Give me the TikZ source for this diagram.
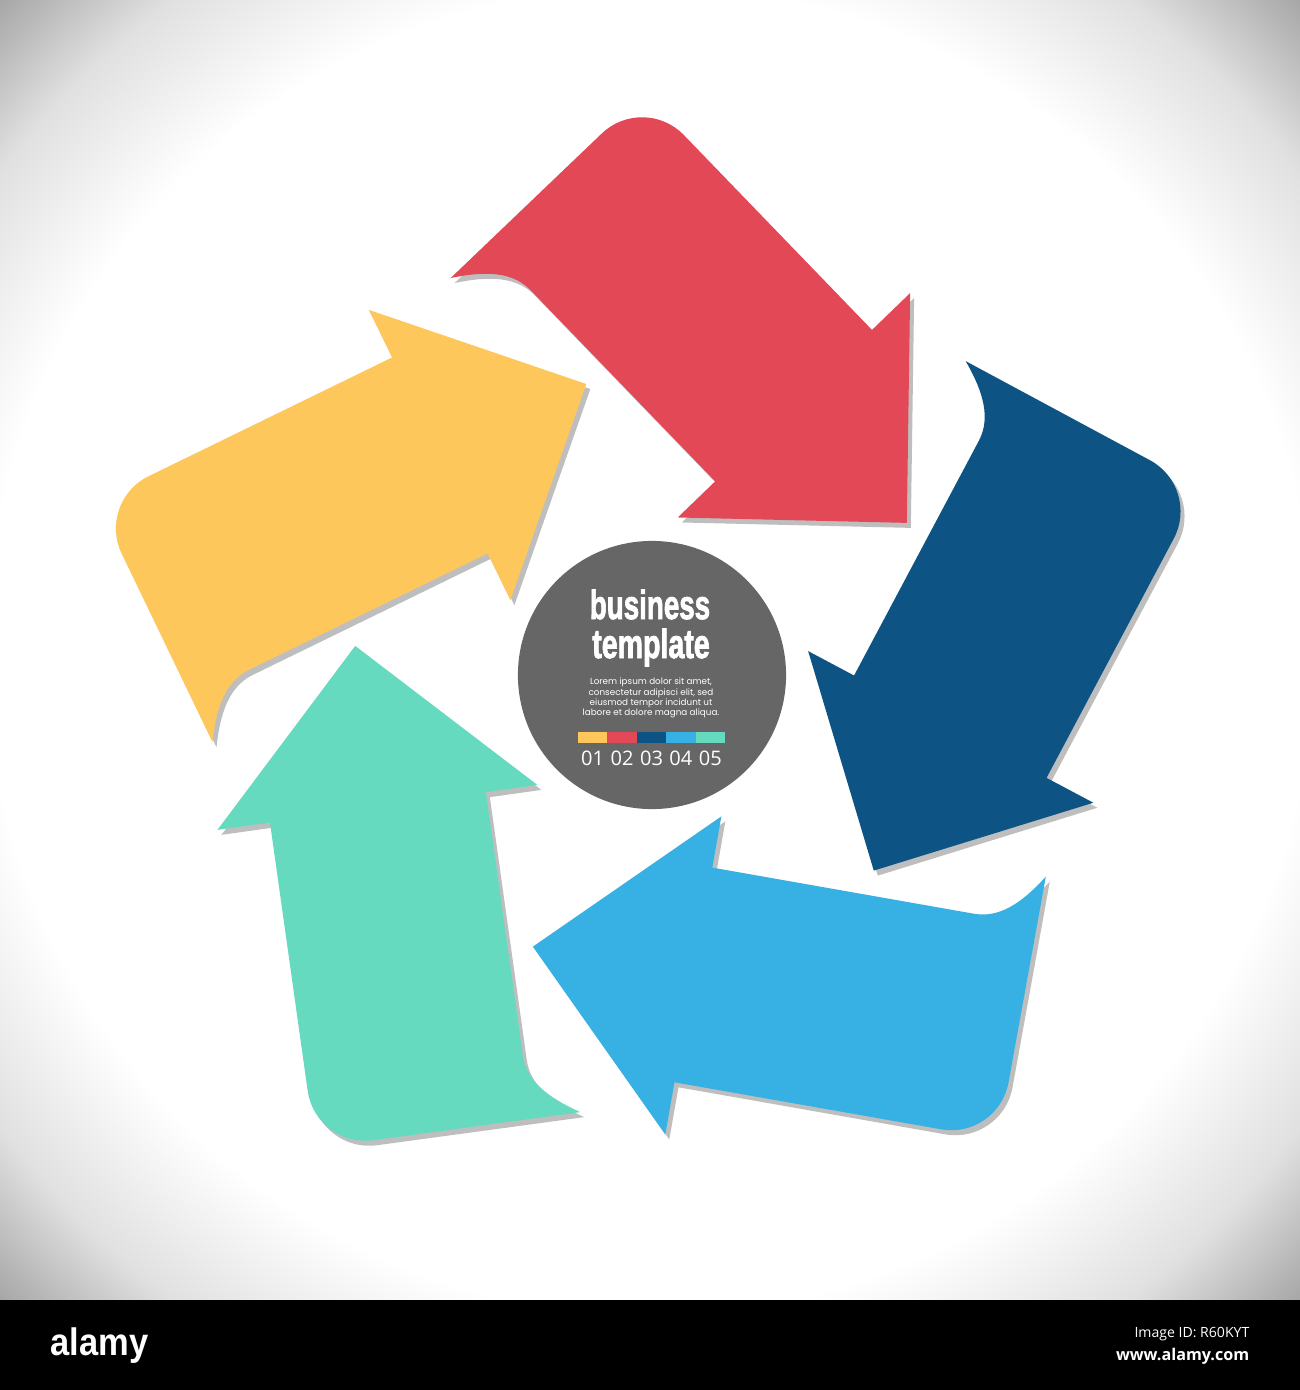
\documentclass[tikz,border=0pt]{standalone}
\usepackage{fontspec}
\usepackage{graphicx}
\newfontfamily\headfont{Liberation Sans}
\newfontfamily\heavyfont{Liberation Sans}[FakeBold=2.2]
\newfontfamily\copyfont{Poppins}
\newfontfamily\stampfont{Open Sans}

\definecolor{step01}{HTML}{FDC75B}
\definecolor{step02}{HTML}{E34857}
\definecolor{step03}{HTML}{0D5383}
\definecolor{step04}{HTML}{37B0E3}
\definecolor{step05}{HTML}{66DABE}
\definecolor{hubgray}{HTML}{666666}
\definecolor{dropgray}{HTML}{BEBEBE}

\pgfdeclareradialshading{vignette}{\pgfpoint{0bp}{0bp}}{color(0bp)=(white); color(25.5bp)=(white); color(31bp)=(black!12); color(35.4bp)=(black!35); color(50bp)=(black!35)}

\tikzset{
  bentarrow/.pic={
    \path[pic actions] (69,289) -- (-94,451) -- (-94,398) -- (-365,398)
      .. controls (-397,398) and (-423,372) .. (-423,340) -- (-424,131)
      .. controls (-410,153) and (-390,180) .. (-360,180) -- (-94,180)
      -- (-94,128) -- cycle;
  },
  hubtitle/.style={anchor=base, inner sep=0pt, text=white,
    font=\heavyfont\bfseries\fontsize{11.6}{11}\selectfont},
  hubcopy/.style={align=center, inner sep=0pt, text=white,
    font=\copyfont\fontsize{2.5}{2.92}\selectfont},
  stepnum/.style={inner sep=0pt, text=white,
    font=\stampfont\fontsize{5.7}{6}\selectfont},
}

\begin{document}
\begin{tikzpicture}[x=0.01cm, y=0.01cm]
  \useasboundingbox (0,0) rectangle (1300,-1390);
  % background and footer strip
  \shade[shading=vignette] (0,0) rectangle (1300,-1300);
  \fill[black] (0,-1300) rectangle (1300,-1390);

  % five arrows round the hub, shadows first
  \foreach \i in {0,...,4}
    \pic[fill=dropgray, rotate=-46-72*\i] at (655,-679) {bentarrow};
  \foreach \col [count=\i from 0] in {step02,step03,step04,step05,step01}
    \pic[fill=\col, rotate=-46-72*\i] at (651,-674) {bentarrow};

  % hub
  \node[circle, fill=hubgray, minimum size=2.68cm, inner sep=0pt] (hub) at (652,-675) {};
  \node[hubtitle] (business) at (650,-619) {\scalebox{0.68}[1]{business}};
  \node[hubtitle] (template) at (651,-658) {\scalebox{0.7}[1]{template}};
  \node[hubcopy] (lorem) at (651,-698) {Lorem ipsum dolor sit amet,\\
    consectetur adipisci elit, sed\\ eiusmod tempor incidunt ut\\
    labore et dolore magna aliqua.};
  \foreach \col/\num [count=\i from 0] in {step01/01,step02/02,step03/03,step04/04,step05/05} {
    \fill[\col] ({578+29.4*\i},-732) rectangle ++(29.4,-11);
    \node[stepnum] (num\num) at ({592.7+29.4*\i},-758) {\num};
  }

  % footer
  \node[anchor=base west, inner sep=0pt, text=white,
    font=\headfont\bfseries\fontsize{10.9}{11}\selectfont] (logo) at (50,-1355) {\scalebox{0.9}[1]{alamy}};
  \node[anchor=base east, inner sep=0pt, text=white,
    font=\stampfont\fontsize{4}{4}\selectfont] (imageid) at (1250,-1337) {Image ID: R60KYT};
  \node[anchor=base east, inner sep=0pt, text=white,
    font=\stampfont\bfseries\fontsize{4.6}{5}\selectfont] (website) at (1250,-1360) {www.alamy.com};
\end{tikzpicture}
\end{document}
